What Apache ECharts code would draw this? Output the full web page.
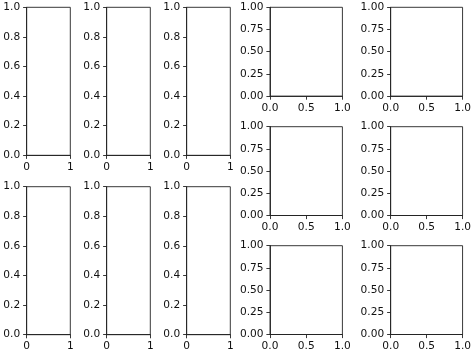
<!DOCTYPE html>
<html>
<head>
<meta charset="utf-8">
<script src="https://cdn.jsdelivr.net/npm/echarts@6/dist/echarts.min.js"></script>
<style>
html,body{margin:0;padding:0;background:#fff;}
#main{width:474px;height:355px;}
</style>
</head>
<body>
<div id="main"></div>
<script>
// tick values for the two kinds of axes
var tallXTicks = [0, 1];
var tallYTicks = [0, 0.2, 0.4, 0.6, 0.8, 1.0];
var squareXTicks = [0, 0.5, 1.0];
var squareYTicks = [0, 0.25, 0.5, 0.75, 1.0];

// left block: 2 rows x 3 cols of tall axes
var tallLefts = [26.7, 106.7, 186.7];
var tallTops = [7.3, 186.7];
// right block: 3 rows x 2 cols of square axes
var squareLefts = [270, 390.7];
var squareTops = [7.3, 126.7, 245.7];

var grids = [], xAxes = [], yAxes = [];

function addAxes(left, top, w, h, xt, yt, xDec, yDec){
	var i = grids.length;
	grids.push({left:left, top:top, width:w, height:h, show:true,
		borderColor:'#222', borderWidth:0.9, backgroundColor:'#fff'});
	var common = {
		type:'value', gridIndex:i, min:0, max:1,
		axisLine:{show:true, onZero:false, lineStyle:{color:'#222', width:0.9}},
		axisTick:{show:true, length:3.6, lineStyle:{color:'#222', width:0.9}},
		splitLine:{show:false},
		axisLabel:{color:'#111', fontSize:10.6, fontFamily:'DejaVu Sans', margin:6.5}
	};
	var xa = echarts.util.merge({}, common, true);
	xa.interval = xt[1] - xt[0];
	xa.axisLabel.formatter = function(v){ return v.toFixed(xDec); };
	var ya = echarts.util.merge({}, common, true);
	ya.interval = yt[1] - yt[0];
	ya.axisLabel.formatter = function(v){ return v.toFixed(yDec); };
	xAxes.push(xa);
	yAxes.push(ya);
}

tallTops.forEach(function(t){
	tallLefts.forEach(function(l){
		addAxes(l, t, 43.6, 148, tallXTicks, tallYTicks, 0, 1);
	});
});
squareTops.forEach(function(t){
	squareLefts.forEach(function(l){
		addAxes(l, t, 72.4, 88.8, squareXTicks, squareYTicks, 1, 2);
	});
});

var myChart = echarts.init(document.getElementById('main'));
myChart.setOption({
	animation:false,
	grid:grids,
	xAxis:xAxes,
	yAxis:yAxes,
	series:[]
});
</script>
</body>
</html>
